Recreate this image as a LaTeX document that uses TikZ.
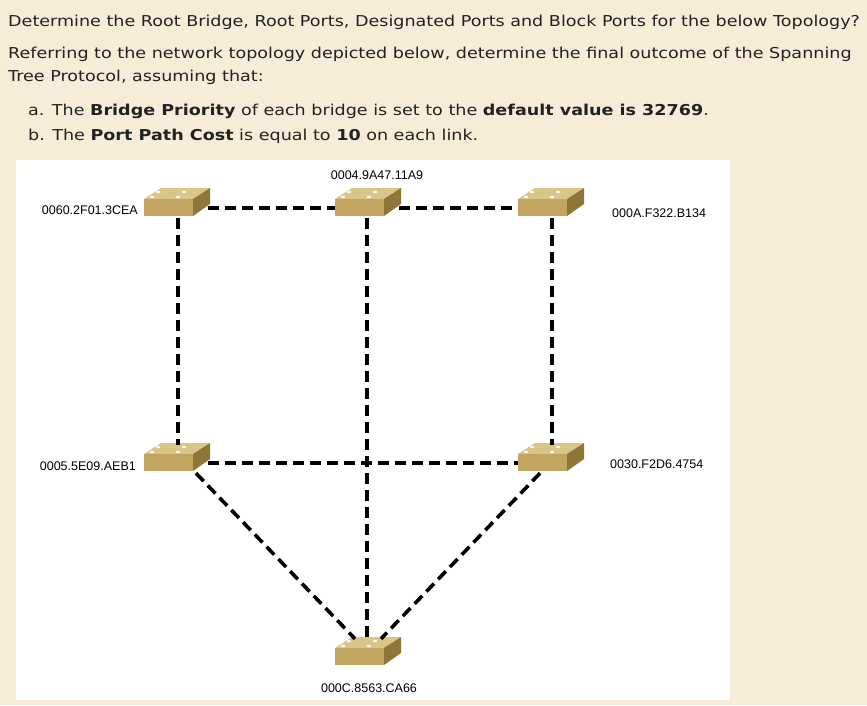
\documentclass[tikz,border=0pt]{standalone}
\usepackage{fontspec}
\setmainfont{DejaVu Sans}[FakeStretch=1.17]
\newfontfamily\lab{Liberation Sans}[FakeStretch=1.0]
\definecolor{bg}{HTML}{F6ECD8}
\definecolor{sw}{HTML}{C2A660}
\definecolor{swt}{HTML}{D9C48A}
\definecolor{sws}{HTML}{8E7638}
\definecolor{txt}{HTML}{222222}
\begin{document}
\begin{tikzpicture}[x=1pt,y=-1pt,
  link/.style={line width=3.6pt,dash pattern=on 11pt off 6pt},
  q/.style={anchor=west,inner sep=0pt,font=\fontsize{15}{18}\selectfont,text=txt},
  lb/.style={inner sep=0pt,font=\lab\fontsize{12.5}{14}\selectfont},
  swn/.style={minimum width=64pt,minimum height=28pt,inner sep=0pt}]
\fill[bg] (0,0) rectangle (867,705);
\fill[white] (16,160) rectangle (730,700);
\node[q] (t1) at (8,22) {Determine the Root Bridge, Root Ports, Designated Ports and Block Ports for the below Topology?};
\node[q] (t2) at (8,54) {Referring to the network topology depicted below, determine the final outcome of the Spanning};
\node[q] (t3) at (8,77) {Tree Protocol, assuming that:};
\node[q] (t4) at (28,111) {a. The \textbf{Bridge Priority} of each bridge is set to the \textbf{default value is 32769}.};
\node[q] (t5) at (28,136) {b. The \textbf{Port Path Cost} is equal to \textbf{10} on each link.};
\newcommand\swicon[2]{%
 \node[swn] (#1) at (#2) {};
 \begin{scope}[shift={(#2)}]
  \fill[swt] (-32,-5) -- (-15,-16) -- (34,-16) -- (17,-5) -- cycle;
  \fill[sw] (-32,-5) rectangle (17,12);
  \fill[sws] (17,-5) -- (34,-16) -- (34,0) -- (17,12) -- cycle;
  \foreach \p in {(-18,-12),(8,-12),(-24,-7),(2,-7)} \fill[white!90!swt] \p ellipse (2.2 and 1.3);
 \end{scope}}
\swicon{a}{176,204}
\swicon{b}{367,204}
\swicon{c}{550,204}
\swicon{d}{176,459}
\swicon{e}{550,459}
\swicon{f}{367,653}
\draw[link] (a.east) ++(0,4) coordinate (a1) -- (a1 -| b.west);
\draw[link] (b.east) ++(0,4) coordinate (b1) -- (b1 -| c.west);
\draw[link] (d.east) ++(0,4) coordinate (d1) -- (d1 -| e.west);
\draw[link] ([xshift=2pt]a.south) -- ([xshift=2pt]d.north);
\draw[link] ([xshift=2pt]c.south) -- ([xshift=2pt]e.north);
\draw[link] (b.south) -- (f.north);
\draw[link] ([xshift=20pt]d.south) -- ([xshift=-12pt]f.north);
\draw[link] ([xshift=-10pt]e.south) -- ([xshift=14pt]f.north);
\node[lb,anchor=east] (la) at (138,210) {0060.2F01.3CEA};
\node[lb] (lbb) at (377,175) {0004.9A47.11A9};
\node[lb,anchor=west] (lc) at (612,213) {000A.F322.B134};
\node[lb,anchor=east] (ld) at (136,466) {0005.5E09.AEB1};
\node[lb,anchor=west] (le) at (610,464) {0030.F2D6.4754};
\node[lb] (lf) at (369,688) {000C.8563.CA66};
\end{tikzpicture}
\end{document}
